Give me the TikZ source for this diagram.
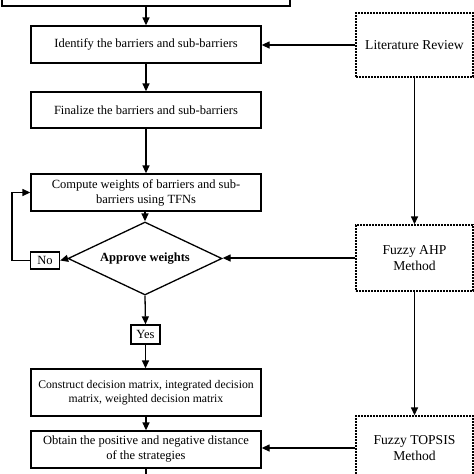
\documentclass[tikz,border=0pt]{standalone}
\usepackage{fontspec}
\setmainfont{Liberation Serif}
\usetikzlibrary{arrows.meta,shapes.geometric}
\begin{document}
\begin{tikzpicture}[x=1pt,y=1pt,
  font=\fontsize{12.5}{15}\selectfont,
  box/.style={draw,line width=1.3pt,rectangle,inner sep=0pt,align=center},
  dbox/.style={draw,line width=1.3pt,rectangle,inner sep=0pt,align=center,dash pattern=on 1.6pt off 1.4pt,font=\fontsize{13.6}{16}\selectfont},
  conn/.style={line width=1.3pt,-{Triangle[length=8pt,width=7pt]}},
  plain/.style={line width=1.3pt}]
\useasboundingbox (0,0) rectangle (474,-474);
\clip (0,0) rectangle (474,-474);
\node[box,minimum width=288pt,minimum height=42pt] (top) at (146,15) {};
\node[box,minimum width=230pt,minimum height=37pt] (ident) at (146,-44.5) {Identify the barriers and sub-barriers};
\node[dbox,minimum width=117pt,minimum height=64pt] (lit) at (414.5,-45) {Literature Review};
\node[box,minimum width=230pt,minimum height=36pt] (final) at (146,-110) {Finalize the barriers and sub-barriers};
\node[box,minimum width=230pt,minimum height=37pt] (comp) at (146,-192.5) {Compute weights of barriers and sub-\\barriers using TFNs};
\node[draw,line width=1.3pt,diamond,aspect=2.1,inner sep=0pt,minimum width=154pt,minimum height=73pt,font=\fontsize{12.5}{15}\selectfont\bfseries] (dia) at (145,-258.5) {Approve weights};
\node[box,minimum width=29pt,minimum height=17pt] (no) at (45,-260.5) {No};
\node[dbox,minimum width=117pt,minimum height=66pt] (ahp) at (414.5,-258) {Fuzzy AHP\\Method};
\node[box,minimum width=29pt,minimum height=19pt] (yes) at (145.5,-334.5) {Yes};
\node[box,minimum width=230pt,minimum height=47pt,font=\fontsize{11.7}{14}\selectfont] (cons) at (146,-392.5) {Construct decision matrix, integrated decision\\matrix, weighted decision matrix};
\node[box,minimum width=230pt,minimum height=37pt] (obt) at (146,-449.5) {Obtain the positive and negative distance\\of the strategies};
\node[dbox,minimum width=117pt,minimum height=64pt] (topsis) at (414.5,-448) {Fuzzy TOPSIS\\Method};
\coordinate (loop) at (12,0);
\coordinate (end) at (146,-490);
\draw[conn] (top.south -| ident.north) -- (ident.north);
\draw[conn] (lit.west) -- (lit.west -| ident.east);
\draw[conn] (ident) -- (final);
\draw[conn] (final) -- (comp);
\draw[conn] (comp.south -| dia.north) -- (dia.north);
\draw[conn] (dia.west) -- (no.east);
\draw[conn] (no.west) -- (no.west -| loop) |- (comp.west);
\draw[conn] (ahp.west) -- (ahp.west -| dia.east);
\draw[conn] (lit.south) -- (ahp.north);
\draw[conn] (dia.south) -- (yes.north);
\draw[conn] (yes.south) -- (yes.south |- cons.north);
\draw[conn] (cons) -- (obt);
\draw[conn] (ahp.south) -- (topsis.north);
\draw[conn] (topsis.west) -- (topsis.west -| obt.east);
\draw[plain] (obt.south) -- (end);
\end{tikzpicture}
\end{document}
